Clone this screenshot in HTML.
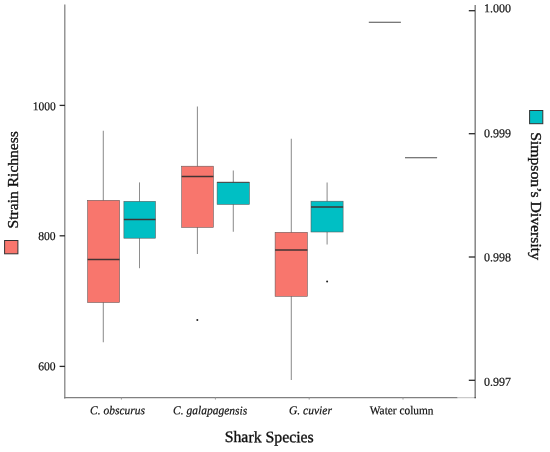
<!DOCTYPE html>
<html><head><meta charset="utf-8">
<style>
html,body{margin:0;padding:0;background:#fff;}
svg{display:block;}
text{font-family:"Liberation Serif","Times New Roman",serif;fill:#111;stroke:#111;stroke-width:0.35;}
.ax{stroke:#808080;stroke-width:1.25;fill:none;}
.tk{stroke:#2a2a2a;stroke-width:1.3;}
.wh{stroke:#8e8e8e;stroke-width:1.05;}
.bx{stroke:#5c5555;stroke-width:0.55;}
.md{stroke:#403434;stroke-width:1.5;}
.r{fill:#f8766d;}
.t{fill:#00bfc4;}
.l{font-size:12px;stroke-width:0.2;}
.ti{font-size:16px;}
</style></head><body>
<svg width="550" height="452" viewBox="0 0 550 452">
<rect width="550" height="452" fill="#fff"/>
<!-- axes -->
<line class="ax" x1="64.8" y1="4.5" x2="64.8" y2="398.4"/>
<line class="ax" x1="64" y1="397.7" x2="457.5" y2="397.7"/>
<line x1="457.5" y1="397.7" x2="475" y2="397.7" stroke="#a0a0a0" stroke-width="0.7"/>
<line class="ax" x1="475.2" y1="5" x2="475.2" y2="398" style="stroke-width:1.45"/><rect x="474.5" y="397" width="1.5" height="1.3" fill="#5a5a5a"/>
<!-- left ticks -->
<line class="tk" x1="59.6" y1="105.4" x2="65" y2="105.4"/>
<line class="tk" x1="59.6" y1="235.8" x2="65" y2="235.8"/>
<line class="tk" x1="59.6" y1="366.4" x2="65" y2="366.4"/>
<text class="l" transform="translate(32.8,110.2) rotate(0.08)" textLength="23" lengthAdjust="spacingAndGlyphs">1000</text>
<text class="l" transform="translate(38.2,240.0) rotate(0.08)" textLength="17.4" lengthAdjust="spacingAndGlyphs">800</text>
<text class="l" transform="translate(38.2,370.3) rotate(0.08)" textLength="17.4" lengthAdjust="spacingAndGlyphs">600</text>
<!-- right ticks -->
<line class="tk" x1="468.8" y1="10.7" x2="475" y2="10.7"/>
<line class="tk" x1="468.8" y1="133.7" x2="475" y2="133.7"/>
<line class="tk" x1="468.8" y1="257" x2="475" y2="257"/>
<line class="tk" x1="468.8" y1="380.3" x2="475" y2="380.3"/>
<text class="l" transform="translate(484,12.3) rotate(0.08)">1.000</text>
<text class="l" transform="translate(484,137.3) rotate(0.08)">0.999</text>
<text class="l" transform="translate(484,261.3) rotate(0.08)">0.998</text>
<text class="l" transform="translate(484,385.8) rotate(0.08)">0.997</text>
<!-- x ticks -->
<line x1="121.4" y1="397.5" x2="121.4" y2="399.5" stroke="#999" stroke-width="1"/>
<line x1="215.4" y1="397.5" x2="215.4" y2="399.5" stroke="#999" stroke-width="1"/>
<line x1="309.2" y1="397.5" x2="309.2" y2="399.5" stroke="#999" stroke-width="1"/>
<line x1="403" y1="397.5" x2="403" y2="399.5" stroke="#999" stroke-width="1"/>
<!-- group 1 -->
<line class="wh" x1="103.3" y1="130.7" x2="103.3" y2="342.3"/>
<rect class="bx r" x="87.6" y="200.3" width="32" height="102.2"/>
<line class="md" x1="87.6" y1="259.5" x2="119.6" y2="259.5"/>
<line class="wh" x1="139.5" y1="182.4" x2="139.5" y2="268.2"/>
<rect class="bx t" x="123.9" y="201.3" width="31.6" height="36.9"/>
<line class="md" x1="123.9" y1="219.6" x2="155.5" y2="219.6"/>
<!-- group 2 -->
<line class="wh" x1="197.4" y1="106.5" x2="197.4" y2="253.9"/>
<rect class="bx r" x="181.7" y="166.2" width="31.7" height="61.2"/>
<line class="md" x1="181.7" y1="176.6" x2="213.4" y2="176.6"/>
<line class="wh" x1="233.3" y1="170.5" x2="233.3" y2="231.8"/>
<rect class="bx t" x="217.1" y="182.3" width="32.3" height="22.1"/>
<line class="md" x1="217.1" y1="182.3" x2="249.4" y2="182.3" style="stroke:#444;stroke-width:1"/>
<circle cx="197.3" cy="320" r="1" fill="#222"/>
<!-- group 3 -->
<line class="wh" x1="291.3" y1="138.8" x2="291.3" y2="380"/>
<rect class="bx r" x="275.1" y="232.3" width="32.3" height="64"/>
<line class="md" x1="275.1" y1="250" x2="307.4" y2="250"/>
<line class="wh" x1="327.1" y1="182.6" x2="327.1" y2="244.4"/>
<rect class="bx t" x="311" y="201.2" width="32.1" height="30.8"/>
<line class="md" x1="311" y1="207" x2="343.1" y2="207"/>
<circle cx="327.1" cy="281.4" r="1" fill="#222"/>
<!-- water column -->
<line x1="368.8" y1="22.2" x2="400.9" y2="22.2" stroke="#4d4d4d" stroke-width="1.1"/>
<line x1="405" y1="157.8" x2="437.1" y2="157.8" stroke="#4d4d4d" stroke-width="1.1"/>
<!-- x labels --><g>
<text class="l" transform="translate(90.1,414.3) rotate(0.08)" font-style="italic" textLength="54.8" lengthAdjust="spacingAndGlyphs">C. obscurus</text>
<text class="l" transform="translate(173.1,414.3) rotate(0.08)" font-style="italic" textLength="74.1" lengthAdjust="spacingAndGlyphs">C. galapagensis</text>
<text class="l" transform="translate(289,414.3) rotate(0.08)" font-style="italic" textLength="42.9" lengthAdjust="spacingAndGlyphs">G. cuvier</text>
<text class="l" transform="translate(369.8,414.3) rotate(0.08)" textLength="63.7" lengthAdjust="spacingAndGlyphs">Water column</text>
<text class="ti" transform="translate(224.7,442.1) rotate(0.08)" textLength="89.0" lengthAdjust="spacingAndGlyphs">Shark Species</text>
</g><!-- y label left -->
<text class="ti" style="font-size:15.6px" transform="translate(18.3,228.4) rotate(-90)" textLength="97.3" lengthAdjust="spacingAndGlyphs">Strain Richness</text>
<rect x="4.6" y="240.5" width="13.3" height="13.3" fill="#f8766d" stroke="#333" stroke-width="1"/>
<!-- right label -->
<text class="ti" style="font-size:15.5px" transform="translate(531.2,132.2) rotate(90)" textLength="127.8" lengthAdjust="spacingAndGlyphs">Simpson’s Diversity</text>
<rect x="529.6" y="110.5" width="13.2" height="13.2" fill="#00bfc4" stroke="#333" stroke-width="1"/>
</svg>
</body></html>
